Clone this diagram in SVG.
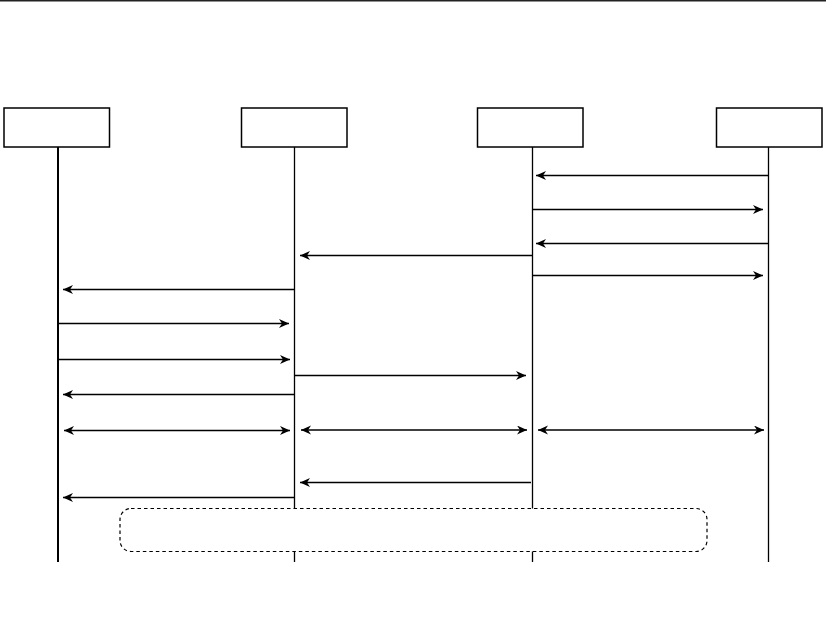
<svg xmlns="http://www.w3.org/2000/svg" width="828" height="629" viewBox="0 0 828 629">
<style>
.box{fill:#fff;stroke:#000;stroke-width:1.5}
.life{stroke:#000;stroke-width:1.3;fill:none}
.msg{stroke:#000;stroke-width:1.3;fill:none;marker-end:url(#ah)}
.both{stroke:#000;stroke-width:1.3;fill:none;marker-end:url(#ah);marker-start:url(#ahs)}
.frag{fill:#fff;stroke:#000;stroke-width:1.2;stroke-dasharray:3.5 3}
</style>
<defs>
<marker id="ah" markerUnits="userSpaceOnUse" markerWidth="12" markerHeight="10" refX="10" refY="4.5" orient="auto">
<path d="M0,0 L10,4.5 L0,9 L3,4.5 Z" fill="#000"/>
</marker>
<marker id="ahs" markerUnits="userSpaceOnUse" markerWidth="12" markerHeight="10" refX="10" refY="4.5" orient="auto-start-reverse">
<path d="M0,0 L10,4.5 L0,9 L3,4.5 Z" fill="#000"/>
</marker>
</defs>
<rect width="828" height="629" fill="#fff"/>
<line x1="0" y1="0.75" x2="826" y2="0.75" stroke="#222" stroke-width="1.5"/>
<g id="p1"><rect class="box" x="4" y="108" width="105.5" height="39"/><line class="life" x1="58" y1="147" x2="58" y2="562" style="stroke-width:2"/></g>
<g id="p2"><rect class="box" x="241.5" y="108" width="105.5" height="39"/><line class="life" x1="294.5" y1="147" x2="294.5" y2="562"/></g>
<g id="p3"><rect class="box" x="477.5" y="108" width="105.5" height="39"/><line class="life" x1="532.5" y1="147" x2="532.5" y2="562"/></g>
<g id="p4"><rect class="box" x="716.5" y="108" width="105.5" height="39"/><line class="life" x1="768.5" y1="147" x2="768.5" y2="562"/></g>
<g id="connectors">
<line class="msg" x1="768" y1="175.5" x2="536" y2="175.5"/>
<line class="msg" x1="533" y1="209.5" x2="763" y2="209.5"/>
<line class="msg" x1="768" y1="243.5" x2="536" y2="243.5"/>
<line class="msg" x1="532" y1="255.5" x2="300" y2="255.5"/>
<line class="msg" x1="533" y1="275.5" x2="763" y2="275.5"/>
<line class="msg" x1="294" y1="289.5" x2="63" y2="289.5"/>
<line class="msg" x1="59" y1="323.5" x2="289" y2="323.5"/>
<line class="msg" x1="59" y1="359.5" x2="290" y2="359.5"/>
<line class="msg" x1="295" y1="375.5" x2="526" y2="375.5"/>
<line class="msg" x1="294" y1="394.5" x2="63" y2="394.5"/>
<line class="both" x1="64" y1="430.5" x2="290" y2="430.5"/>
<line class="both" x1="301" y1="430" x2="527" y2="430"/>
<line class="both" x1="538" y1="430" x2="764" y2="430"/>
<line class="msg" x1="531" y1="482.5" x2="300" y2="482.5"/>
<line class="msg" x1="294" y1="497.5" x2="63" y2="497.5"/>
</g>
<g id="frag"><rect class="frag" x="120" y="508.5" width="587" height="43" rx="11" ry="11"/></g>
</svg>
